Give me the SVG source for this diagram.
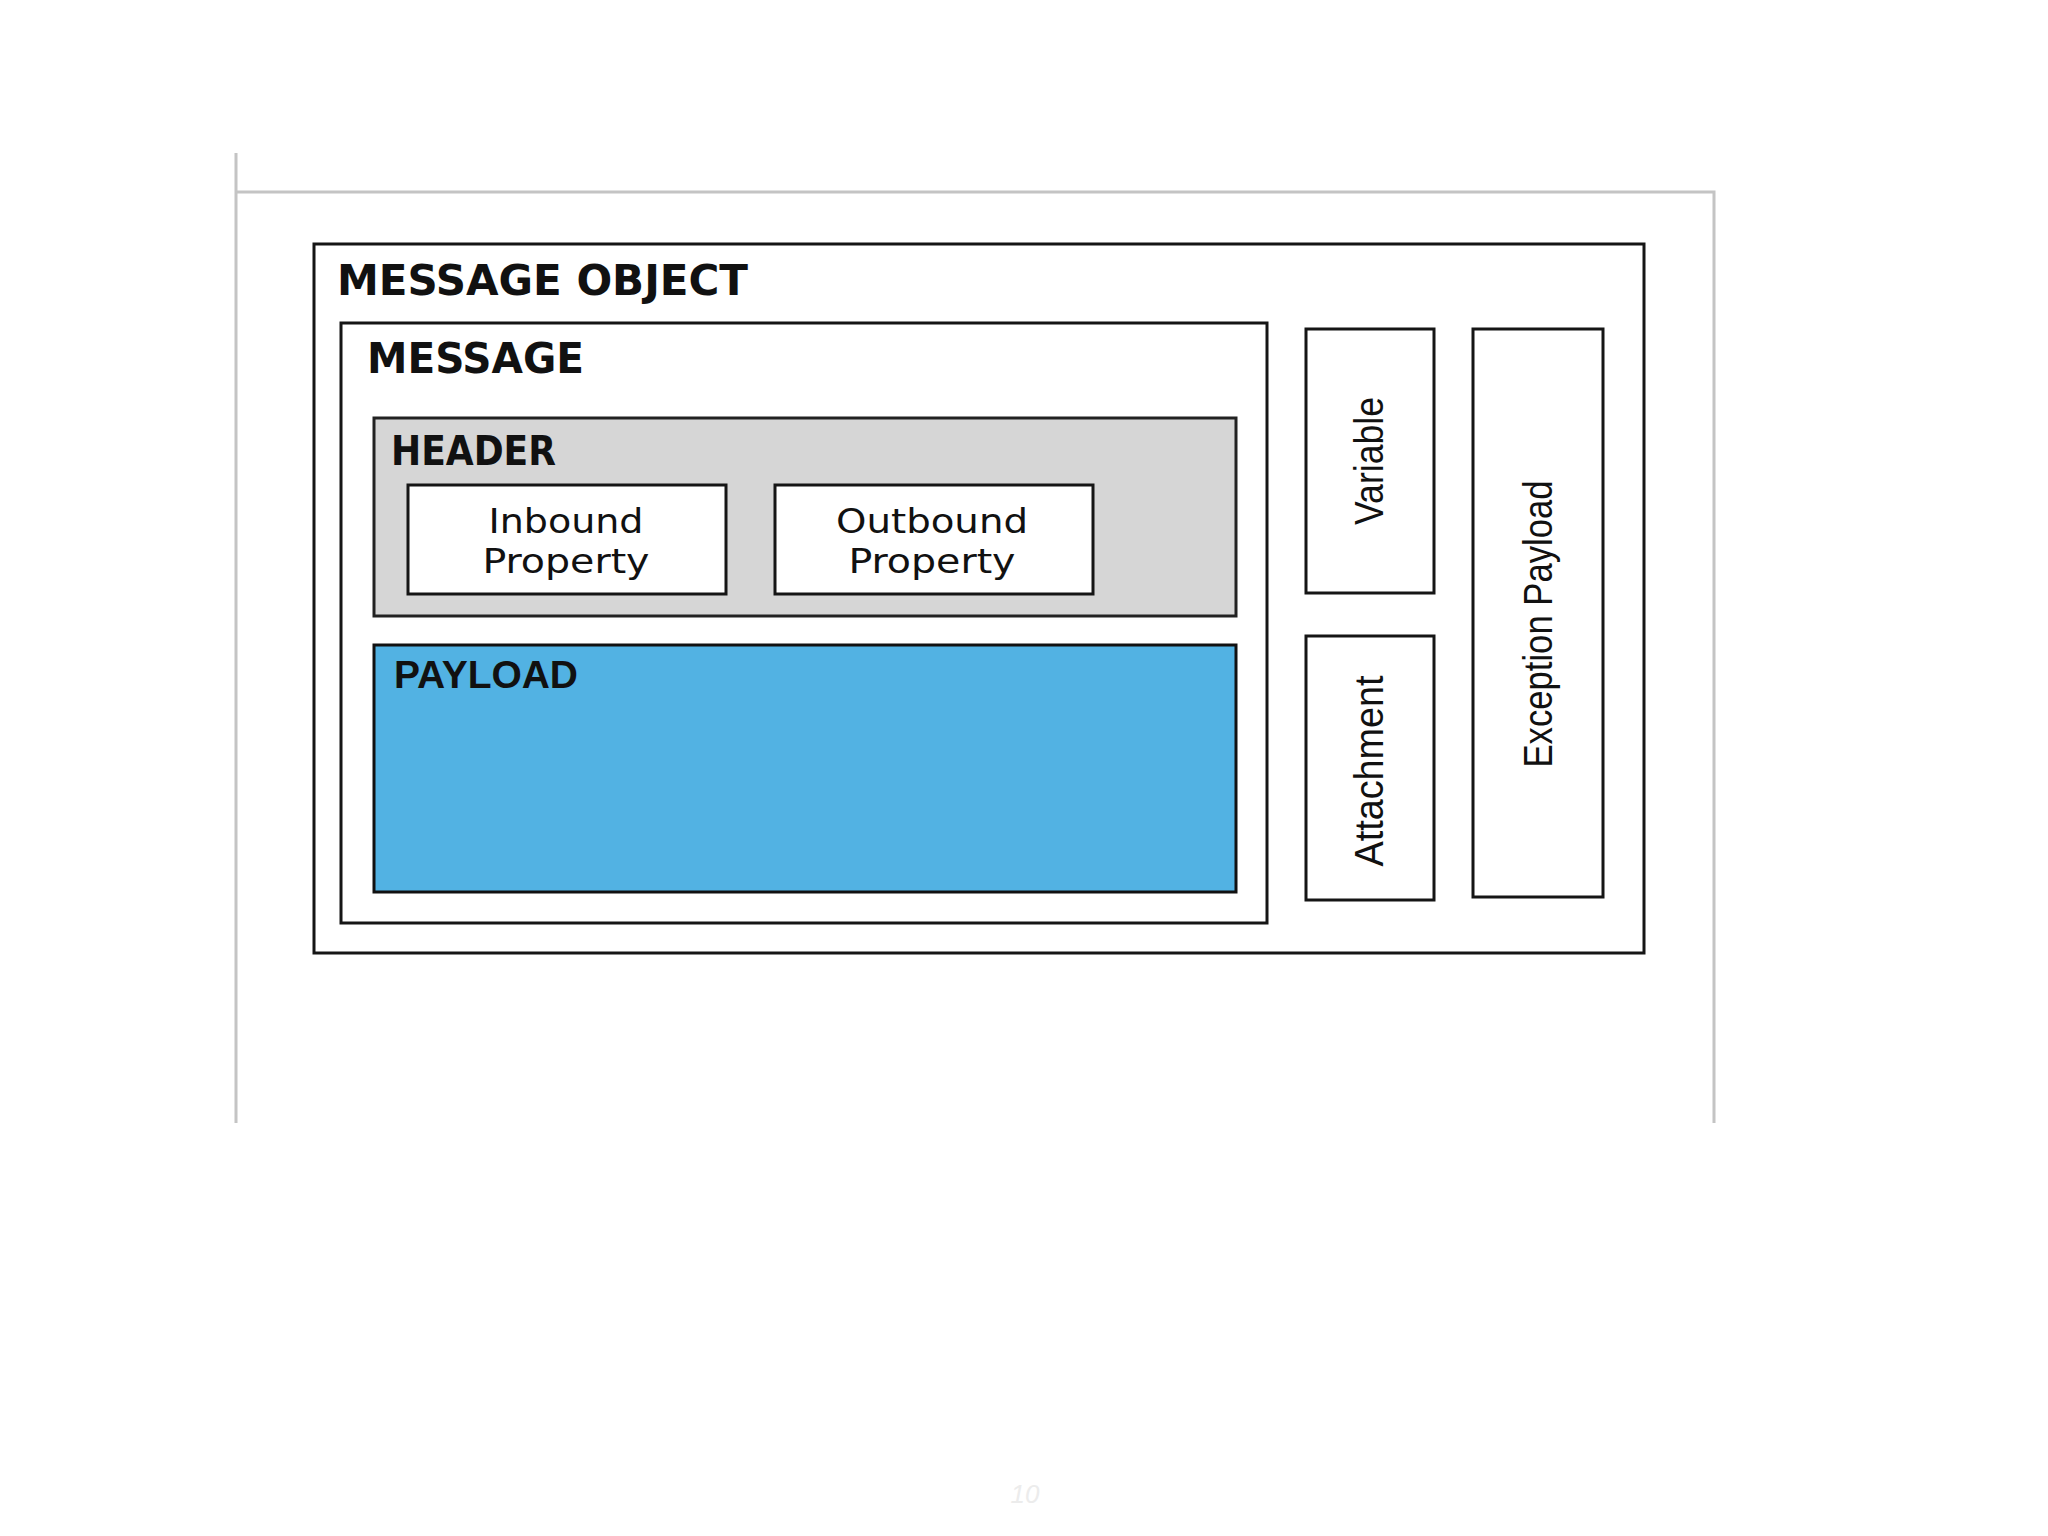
<svg xmlns="http://www.w3.org/2000/svg" width="2048" height="1536" viewBox="0 0 2048 1536">
<style>
.box{fill:#fff;stroke:#151515;stroke-width:3}
.frame{fill:none;stroke:#c4c4c4;stroke-width:3}
.h{font-family:"DejaVu Sans Condensed","DejaVu Sans",sans-serif;font-weight:bold;fill:#111}
.p{font-family:"DejaVu Sans Condensed","DejaVu Sans",sans-serif;font-size:34px;fill:#111;text-anchor:middle}
.v{font-family:"Liberation Sans",Arial,sans-serif;font-size:40px;fill:#111;text-anchor:middle}
</style>
<rect width="2048" height="1536" fill="#fff"/>
<g id="frame">
<polyline class="frame" points="236,153 236,1123"/>
<polyline class="frame" points="236,192 1714,192 1714,1123"/>
</g>
<g id="message-object">
<rect class="box" x="314" y="244" width="1330" height="709"/>
<text class="h" x="337" y="295" font-size="42" textLength="411" lengthAdjust="spacingAndGlyphs">MESSAGE OBJECT</text>
</g>
<g id="message">
<rect class="box" x="341" y="323" width="926" height="600"/>
<text class="h" x="367" y="373" font-size="42" textLength="217" lengthAdjust="spacingAndGlyphs">MESSAGE</text>
</g>
<g id="header">
<rect x="374" y="418" width="862" height="198" fill="#d6d6d6" stroke="#222" stroke-width="3"/>
<text class="h" x="391" y="465" font-size="40" textLength="165" lengthAdjust="spacingAndGlyphs">HEADER</text>
</g>
<g id="inbound-property">
<rect class="box" x="408" y="485" width="318" height="109"/>
<text class="p" x="566" y="533" textLength="155" lengthAdjust="spacingAndGlyphs">Inbound</text>
<text class="p" x="566" y="573" textLength="167" lengthAdjust="spacingAndGlyphs">Property</text>
</g>
<g id="outbound-property">
<rect class="box" x="775" y="485" width="318" height="109"/>
<text class="p" x="932" y="533" textLength="192" lengthAdjust="spacingAndGlyphs">Outbound</text>
<text class="p" x="932" y="573" textLength="167" lengthAdjust="spacingAndGlyphs">Property</text>
</g>
<g id="payload">
<rect x="374" y="645" width="862" height="247" fill="#52b2e3" stroke="#111" stroke-width="3"/>
<text x="394" y="688" font-family="Liberation Sans,Arial,sans-serif" font-weight="bold" font-size="38" fill="#111" textLength="184" lengthAdjust="spacingAndGlyphs">PAYLOAD</text>
</g>
<g id="variable">
<rect class="box" x="1306" y="329" width="128" height="264"/>
<text class="v" transform="translate(1383,461) rotate(-90)" textLength="128" lengthAdjust="spacingAndGlyphs">Variable</text>
</g>
<g id="attachment">
<rect class="box" x="1306" y="636" width="128" height="264"/>
<text class="v" transform="translate(1383,771) rotate(-90)" textLength="191" lengthAdjust="spacingAndGlyphs">Attachment</text>
</g>
<g id="exception-payload">
<rect class="box" x="1473" y="329" width="130" height="568"/>
<text class="v" transform="translate(1552,624) rotate(-90)" textLength="287" lengthAdjust="spacingAndGlyphs">Exception Payload</text>
</g>
<g id="connectors"></g>
<text x="1025" y="1503" font-family="Liberation Sans,Arial,sans-serif" font-style="italic" font-size="26" fill="#ececec" text-anchor="middle">10</text>
</svg>
